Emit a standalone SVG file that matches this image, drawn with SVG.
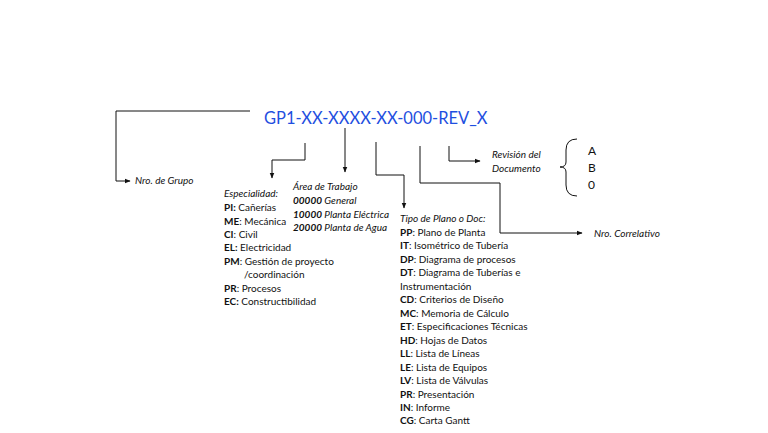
<svg xmlns="http://www.w3.org/2000/svg" width="768" height="433" viewBox="0 0 768 433">
<style>
text{font-family:Lato,"Liberation Sans",sans-serif;font-size:10px;fill:#111}
.i{font-style:italic}
.b{font-weight:bold}
.t{font-size:16.5px;fill:#1f4fe0}
.c path{fill:none;stroke:#111;stroke-width:1}
</style>
<defs><marker id="a" viewBox="0 0 10 10" refX="9" refY="5" markerWidth="6" markerHeight="6" orient="auto"><path d="M0,1 L10,5 L0,9z" fill="#111"/></marker></defs>
<rect width="768" height="433" fill="#fff"/>
<g id="code"><text class="t" x="264" y="124">GP1-XX-XXXX-XX-000-REV_X</text></g>
<g class="c" id="connectors">
<path d="M250,111 H116 V181 H130" marker-end="url(#a)"/>
<path d="M305,143 V160 H272 V178" marker-end="url(#a)"/>
<path d="M345,128 V172" marker-end="url(#a)"/>
<path d="M376,142 V175 H404 V208" marker-end="url(#a)"/>
<path d="M420,146 V183 H500 V233 H582" marker-end="url(#a)"/>
<path d="M449,146 V161 H480" marker-end="url(#a)"/>
<path d="M577,139 Q566,139 566,150 V162 Q566,167 560,167 Q566,167 566,172 V185 Q566,196 577,196"/>
</g>
<g id="grupo"><text class="i" x="135" y="184">Nro. de Grupo</text></g>
<g id="especialidad">
<text class="i" x="224" y="197">Especialidad:</text>
<text x="224" y="211"><tspan class="b">PI:</tspan> Cañerías</text>
<text x="224" y="225"><tspan class="b">ME</tspan>: Mecánica</text>
<text x="224" y="238"><tspan class="b">CI</tspan>: Civil</text>
<text x="224" y="251"><tspan class="b">EL:</tspan> Electricidad</text>
<text x="224" y="265"><tspan class="b">PM</tspan>: Gestión de proyecto</text>
<text x="244" y="278">/coordinación</text>
<text x="224" y="292"><tspan class="b">PR</tspan>: Procesos</text>
<text x="224" y="305"><tspan class="b">EC:</tspan> Constructibilidad</text>
</g>
<g id="area" class="i">
<text class="i" x="293" y="190">Área de Trabajo</text>
<text class="i" x="293" y="204"><tspan class="b">00000</tspan> General</text>
<text class="i" x="293" y="218"><tspan class="b">10000</tspan>  Planta Eléctrica</text>
<text class="i" x="293" y="231"><tspan class="b">20000</tspan>  Planta de Agua</text>
</g>
<g id="tipo">
<text class="i" x="400" y="222">Tipo de Plano o Doc:</text>
<text x="400" y="236"><tspan class="b">PP</tspan>: Plano de Planta</text>
<text x="400" y="249"><tspan class="b">IT</tspan>: Isométrico de Tubería</text>
<text x="400" y="263"><tspan class="b">DP</tspan>: Diagrama de procesos</text>
<text x="400" y="276"><tspan class="b">DT</tspan>: Diagrama de Tuberías e</text>
<text x="400" y="290">Instrumentación</text>
<text x="400" y="303"><tspan class="b">CD</tspan>: Criterios de Diseño</text>
<text x="400" y="317"><tspan class="b">MC</tspan>: Memoria de Cálculo</text>
<text x="400" y="330"><tspan class="b">ET</tspan>: Especificaciones Técnicas</text>
<text x="400" y="344"><tspan class="b">HD</tspan>: Hojas de Datos</text>
<text x="400" y="357"><tspan class="b">LL</tspan>: Lista de Líneas</text>
<text x="400" y="371"><tspan class="b">LE</tspan>: Lista de Equipos</text>
<text x="400" y="384"><tspan class="b">LV</tspan>: Lista de Válvulas</text>
<text x="400" y="398"><tspan class="b">PR</tspan>: Presentación</text>
<text x="400" y="411"><tspan class="b">IN</tspan>: Informe</text>
<text x="400" y="424"><tspan class="b">CG</tspan>: Carta Gantt</text>
</g>
<g id="correlativo"><text class="i" x="594" y="237">Nro. Correlativo</text></g>
<g id="revision">
<text class="i" x="492" y="158">Revisión del</text>
<text class="i" x="492" y="172">Documento</text>
<text x="588" y="155" style="font-size:12px">A</text>
<text x="588" y="172" style="font-size:12px">B</text>
<text x="588" y="189" style="font-size:12px">0</text>
</g>
</svg>
